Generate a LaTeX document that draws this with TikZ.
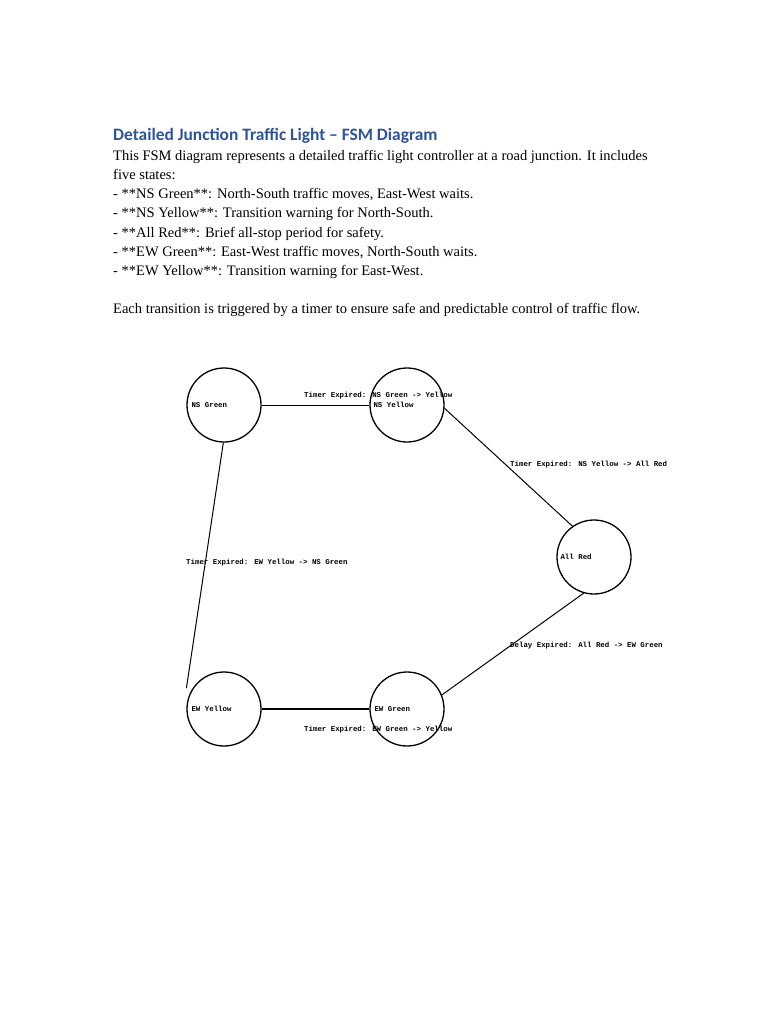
\documentclass[tikz,border=0pt]{standalone}
\usepackage{fontspec}
\setmainfont{Liberation Serif}
\newfontfamily\headfont{Carlito}
\newfontfamily\fsmfont{Liberation Mono}
\usetikzlibrary{positioning,calc}
\definecolor{headblue}{HTML}{2F5496}

\tikzset{
  state/.style={circle, draw, line width=1.3pt, minimum size=74pt, inner sep=0pt},
  statename/.style={anchor=west, inner sep=0pt, font=\fsmfont\bfseries\fontsize{7.4}{8}\selectfont},
  translabel/.style={anchor=west, inner sep=0pt, font=\fsmfont\bfseries\fontsize{7.4}{8}\selectfont},
  trans/.style={line width=1pt},
  bodyline/.style={anchor=base west, inner sep=0pt, font=\fontsize{14.5}{16}\selectfont}
}

\begin{document}
\begin{tikzpicture}[x=1pt, y=-1pt]
\useasboundingbox (0,0) rectangle (768,1024);

% Heading and description
\node[anchor=base west, inner sep=0pt, text=headblue, font=\headfont\bfseries\fontsize{17.4}{20}\selectfont] (title) at (113,141) {Detailed Junction Traffic Light – FSM Diagram};
\node[bodyline] (l1) at (113,161) {This FSM diagram represents a detailed traffic light controller at a road junction. It includes};
\node[bodyline] (l2) at (113,180) {five states:};
\node[bodyline] (l3) at (113,199) {- **NS Green**: North-South traffic moves, East-West waits.};
\node[bodyline] (l4) at (113,218) {- **NS Yellow**: Transition warning for North-South.};
\node[bodyline] (l5) at (113,237) {- **All Red**: Brief all-stop period for safety.};
\node[bodyline] (l6) at (113,256) {- **EW Green**: East-West traffic moves, North-South waits.};
\node[bodyline] (l7) at (113,275) {- **EW Yellow**: Transition warning for East-West.};
\node[bodyline] (l8) at (113,313) {Each transition is triggered by a timer to ensure safe and predictable control of traffic flow.};

% States
\node[state, label={[statename, label distance=-5pt]west:NS Green}] (nsg) at (224,405) {};
\node[state, label={[statename, label distance=-4pt]west:NS Yellow}] (nsy) at (407,405) {};
\node[state, label={[statename, label distance=-4pt]west:All Red}] (arl) at (594,557) {};
\node[state, label={[statename, label distance=-5pt]west:EW Green}] (ewg) at (407,709) {};
\node[state, label={[statename, label distance=-5pt]west:EW Yellow}] (ewy) at (224,709) {};
\coordinate (ewyout) at ($(ewy.150)+(-5,-2)$);

% Transitions
\draw[trans] (nsg.east) -- (nsy.west);
\draw[trans] (nsy.-5) -- (arl.125);
\draw[trans] (arl.-106) -- (ewg.22);
\draw[trans, line width=2pt] (ewg.west) -- (ewy.east);
\draw[trans] (ewyout) -- (nsg.-91);

% Transition labels
\node[translabel] (t1) at (304,396) {Timer Expired: NS Green -> Yellow};
\node[translabel] (t2) at (510,465) {Timer Expired: NS Yellow -> All Red};
\node[translabel] (t3) at (510,646) {Delay Expired: All Red -> EW Green};
\node[translabel] (t4) at (304,730) {Timer Expired: EW Green -> Yellow};
\node[translabel] (t5) at (186,563) {Timer Expired: EW Yellow -> NS Green};

\end{tikzpicture}
\end{document}
